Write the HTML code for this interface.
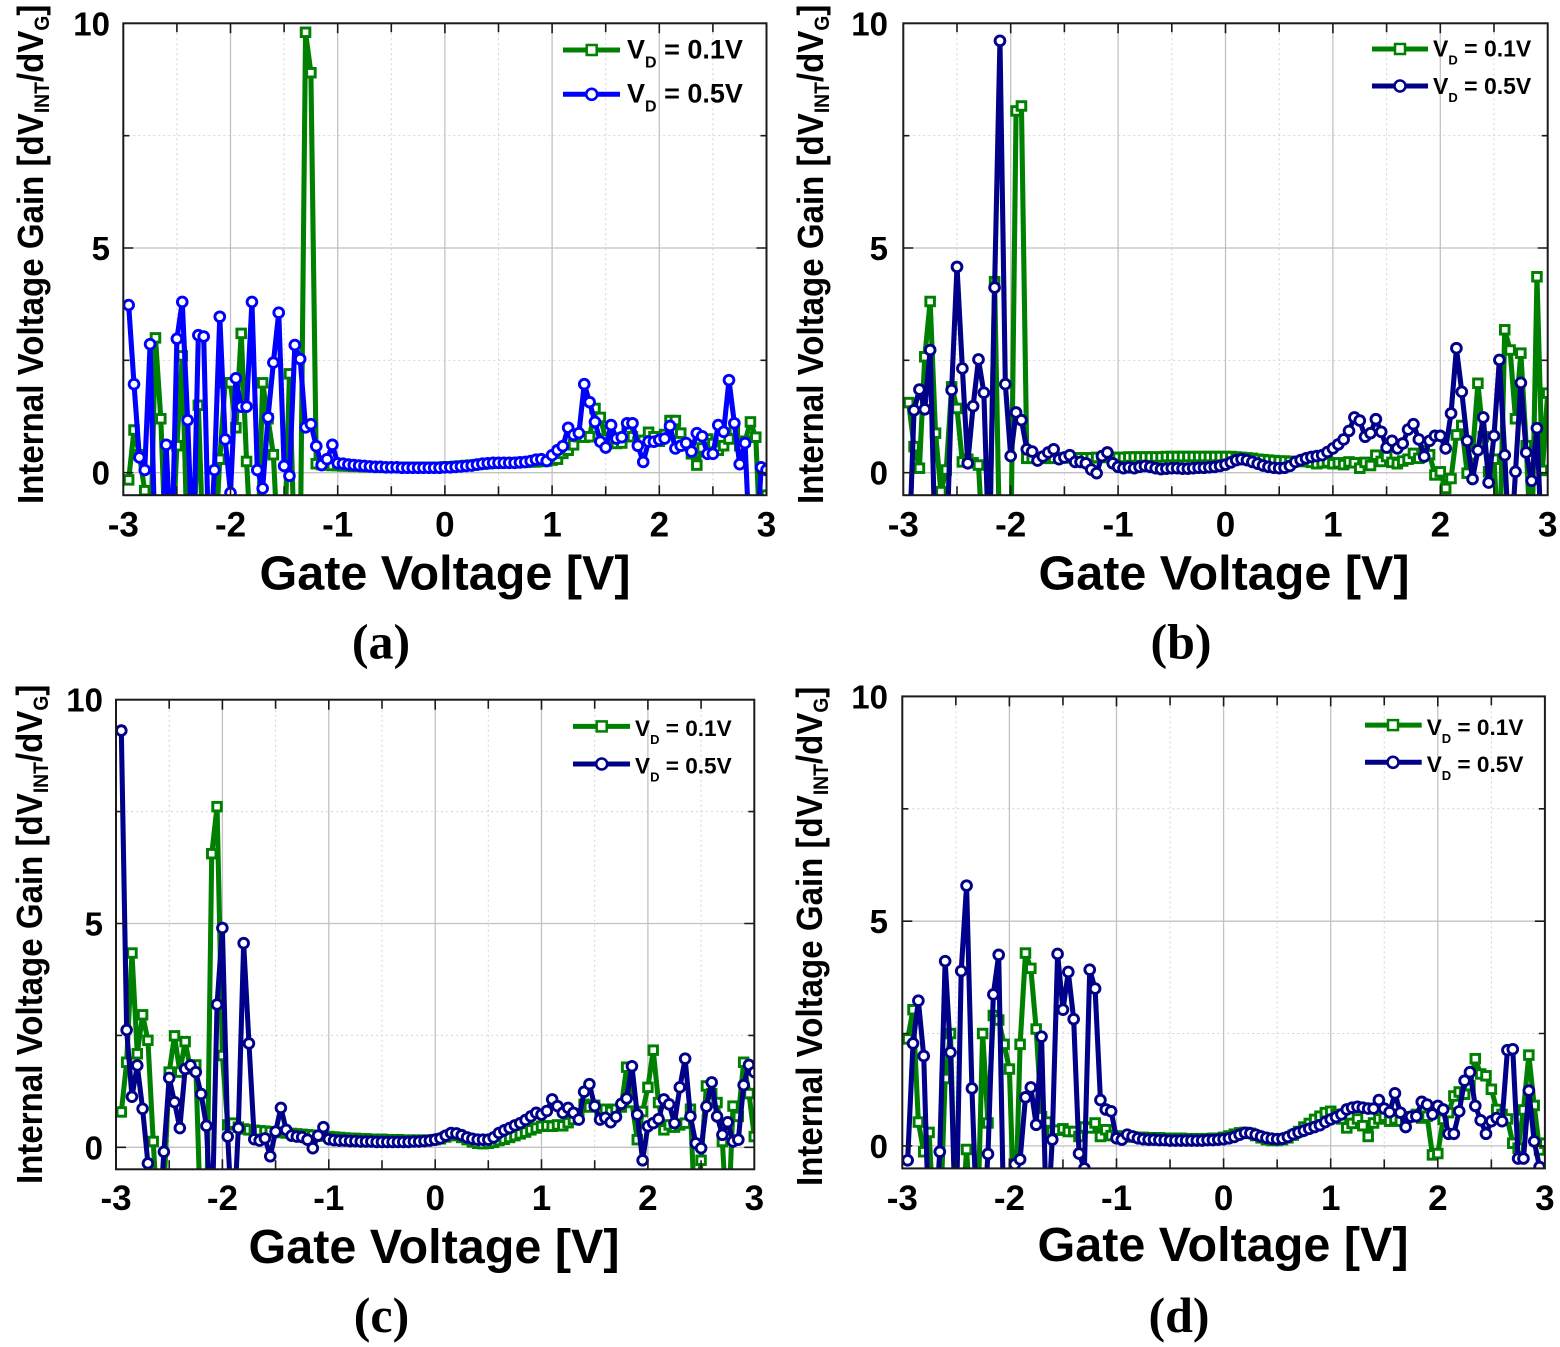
<!DOCTYPE html>
<html>
<head>
<meta charset="utf-8">
<style>
html,body{margin:0;padding:0;background:#fff;}
svg{display:block;}
text{font-family:"Liberation Sans",Arial,sans-serif;font-weight:bold;fill:#000;}
.cap{font-family:"Liberation Serif","Times New Roman",serif;font-weight:bold;}
.leg{white-space:pre;}
</style>
</head>
<body>
<svg width="1560" height="1347" viewBox="0 0 1560 1347" xmlns="http://www.w3.org/2000/svg">
<defs>
  <marker id="sqG" markerUnits="userSpaceOnUse" overflow="visible" markerWidth="1" markerHeight="1" refX="0" refY="0">
    <rect x="-1.075" y="-1.280" width="2.150" height="2.560" fill="#008000" stroke="none"/>
    <rect x="-0.523" y="-0.623" width="1.047" height="1.247" fill="#ffffff" stroke="none"/>
  </marker>
  <marker id="ciB" markerUnits="userSpaceOnUse" overflow="visible" markerWidth="1" markerHeight="1" refX="0" refY="0">
    <ellipse cx="0" cy="0" rx="1.178" ry="1.403" fill="#0000ff" stroke="none"/>
    <ellipse cx="0" cy="0" rx="0.635" ry="0.757" fill="#ffffff" stroke="none"/>
  </marker>
  <marker id="ciN" markerUnits="userSpaceOnUse" overflow="visible" markerWidth="1" markerHeight="1" refX="0" refY="0">
    <ellipse cx="0" cy="0" rx="1.178" ry="1.403" fill="#000088" stroke="none"/>
    <ellipse cx="0" cy="0" rx="0.635" ry="0.757" fill="#ffffff" stroke="none"/>
  </marker>
  <clipPath id="clipA"><rect x="123.3" y="23.3" width="643.2" height="471.9"/></clipPath>
  <clipPath id="clipB"><rect x="903.3" y="23.3" width="644.4" height="471.9"/></clipPath>
  <clipPath id="clipC"><rect x="116" y="699.7" width="638.3" height="469.6"/></clipPath>
  <clipPath id="clipD"><rect x="902.3" y="696.4" width="642.6" height="472"/></clipPath>
</defs>

<!-- ================= PANEL A ================= -->
<g>
  <path d="M176.9 23.3V495.2M284.1 23.3V495.2M391.3 23.3V495.2M498.5 23.3V495.2M605.7 23.3V495.2M712.9 23.3V495.2M123.3 135.65H766.5M123.3 360.35H766.5" stroke="#d4d4d4" stroke-width="1" stroke-dasharray="2,3" fill="none"/>
  <path d="M230.5 23.3V495.2M337.7 23.3V495.2M444.9 23.3V495.2M552.1 23.3V495.2M659.3 23.3V495.2M123.3 248H766.5M123.3 472.7H766.5" stroke="#c2c2c2" stroke-width="1.3" fill="none"/>
  <g clip-path="url(#clipA)">
    <g transform="translate(128.66,472.7) scale(5.36,-4.494)">
      <polyline fill="none" stroke="#008000" stroke-width="0.95" stroke-linejoin="round" marker-start="url(#sqG)" marker-mid="url(#sqG)" marker-end="url(#sqG)" points="0,-1.6 1,9.5 2,4 3,-4 4,-20 5,30 6,12 7,-20 8,-20 9,6 10,26 11,-20 12,-20 13,15 14,-20 15,-20 16,-20 17,3 18,20 19,20 20,10 21,31 22,2.5 23,-20 24,-20 25,20 26,12 27,4 28,-20 29,-20 30,22 31,-20 32,-20 33,98 34,89 35,2 36,1.8 37,1.7 38,1.6 39,1.6 40,1.5 41,1.5 42,1.4 43,1.4 44,1.3 45,1.3 46,1.3 47,1.2 48,1.2 49,1.2 50,1.2 51,1.2 52,1.2 53,1.2 54,1.2 55,1.2 56,1.2 57,1.2 58,1.2 59,1.3 60,1.3 61,1.4 62,1.5 63,1.6 64,1.7 65,1.8 66,1.9 67,2 68,2.1 69,2.1 70,2.2 71,2.2 72,2.2 73,2.3 74,2.3 75,2.4 76,2.4 77,2.5 78,2.6 79,2.8 80,3 81,4.3 82,5 83,6.2 84,8 85,7.9 86,8 87,14.3 88,12.3 89,7.5 90,7.8 91,6.5 92,6.6 93,9 94,8 95,6.8 96,7.2 97,9 98,8 99,7 100,8.5 101,11.6 102,11.6 103,8.8 104,6 105,4.2 106,1.7 107,5.5 108,7.5 109,6.5 110,5 111,6 112,7.5 113,9.5 114,6 115,7 116,11.3 117,7.9 118,-20 119,-5"/>
      <polyline fill="none" stroke="#0000ff" stroke-width="0.95" stroke-linejoin="round" marker-start="url(#ciB)" marker-mid="url(#ciB)" marker-end="url(#ciB)" points="0,37.3 1,19.7 2,3.4 3,0.6 4,28.6 5,-20 6,-20 7,6.2 8,-20 9,29.8 10,38 11,11.7 12,-20 13,30.6 14,30.3 15,-20 16,0.6 17,34.7 18,7.4 19,-4.5 20,21 21,14.7 22,14.7 23,38 24,0.6 25,-3.5 26,12.3 27,24.5 28,35.6 29,1.5 30,-0.7 31,28.4 32,25.3 33,10.1 34,10.8 35,5.9 36,1.7 37,3 38,6.2 39,2.1 40,2 41,1.8 42,1.7 43,1.6 44,1.5 45,1.4 46,1.3 47,1.3 48,1.2 49,1.2 50,1.2 51,1.1 52,1.1 53,1.1 54,1.1 55,1.1 56,1.1 57,1.1 58,1.1 59,1.2 60,1.2 61,1.3 62,1.4 63,1.5 64,1.6 65,1.8 66,2 67,2.1 68,2.2 69,2.2 70,2.2 71,2.2 72,2.2 73,2.3 74,2.4 75,2.6 76,2.9 77,3 78,2.6 79,3.9 80,5 81,5.9 82,10 83,8.4 84,8.8 85,19.7 86,15.7 87,11.3 88,6.9 89,5.6 90,10.6 91,7.6 92,7.9 93,11 94,11 95,6 96,2.4 97,6.9 98,6.9 99,7.3 100,7.6 101,10.4 102,5.4 103,6 104,6.6 105,4.7 106,8.8 107,8.1 108,4.2 109,4.2 110,10.6 111,9.1 112,20.6 113,11 114,1.9 115,6.6 116,-20 117,-20 118,1.2 119,0.6"/>
    </g>
  </g>
  <rect x="123.3" y="23.3" width="643.2" height="471.9" fill="none" stroke="#1a1a1a" stroke-width="2"/>
  <path d="M176.9 495.2v-9M230.5 495.2v-10M284.1 495.2v-9M337.7 495.2v-10M391.3 495.2v-9M444.9 495.2v-10M498.5 495.2v-9M552.1 495.2v-10M605.7 495.2v-9M659.3 495.2v-10M712.9 495.2v-9
           M176.9 23.3v9M230.5 23.3v10M284.1 23.3v9M337.7 23.3v10M391.3 23.3v9M444.9 23.3v10M498.5 23.3v9M552.1 23.3v10M605.7 23.3v9M659.3 23.3v10M712.9 23.3v9
           M123.3 248h10M123.3 472.7h10M123.3 135.65h6M123.3 360.35h6
           M766.5 248h-10M766.5 472.7h-10M766.5 135.65h-6M766.5 360.35h-6" stroke="#1a1a1a" stroke-width="1.6" fill="none"/>
  <g font-size="35" text-anchor="middle">
    <text x="123.3" y="536.7">-3</text><text x="230.5" y="536.7">-2</text><text x="337.7" y="536.7">-1</text><text x="444.9" y="536.7">0</text><text x="552.1" y="536.7">1</text><text x="659.3" y="536.7">2</text><text x="766.5" y="536.7">3</text>
  </g>
  <g font-size="33" text-anchor="end">
    <text x="110" y="35.3">10</text><text x="110" y="260">5</text><text x="110" y="484.7">0</text>
  </g>
  <text x="445" y="589.5" font-size="48.5" text-anchor="middle">Gate Voltage [V]</text>
  <text transform="translate(43,504) rotate(-90) scale(0.919,1)" font-size="36">Internal Voltage Gain [dV<tspan font-size="21" dy="6">INT</tspan><tspan dy="-6">/dV</tspan><tspan font-size="21" dy="6">G</tspan><tspan dy="-6">]</tspan></text>
  <text class="cap" x="381" y="658.5" font-size="50" text-anchor="middle">(a)</text>
  <line x1="563" y1="50" x2="620" y2="50" stroke="#008000" stroke-width="5"/>
  <rect x="586.7" y="45" width="10" height="10" fill="#fff" stroke="#008000" stroke-width="2.5"/>
  <text class="leg" x="627" y="58.3" font-size="27">V<tspan font-size="16" dy="9">D</tspan><tspan dy="-9"> = 0.1V</tspan></text>
  <line x1="563" y1="94.3" x2="620" y2="94.3" stroke="#0000ff" stroke-width="5"/>
  <circle cx="591.7" cy="94.3" r="5.5" fill="#fff" stroke="#0000ff" stroke-width="2.6"/>
  <text class="leg" x="627" y="102.5" font-size="27">V<tspan font-size="16" dy="9">D</tspan><tspan dy="-9"> = 0.5V</tspan></text>
</g>

<!-- ================= PANEL B ================= -->
<g>
  <path d="M957 23.3V495.2M1064.4 23.3V495.2M1171.8 23.3V495.2M1279.2 23.3V495.2M1386.6 23.3V495.2M1494 23.3V495.2M903.3 135.65H1547.7M903.3 360.35H1547.7" stroke="#d4d4d4" stroke-width="1" stroke-dasharray="2,3" fill="none"/>
  <path d="M1010.7 23.3V495.2M1118.1 23.3V495.2M1225.5 23.3V495.2M1332.9 23.3V495.2M1440.3 23.3V495.2M903.3 248H1547.7M903.3 472.7H1547.7" stroke="#c2c2c2" stroke-width="1.3" fill="none"/>
  <g clip-path="url(#clipB)">
    <g transform="translate(908.67,472.7) scale(5.37,-4.494)">
      <polyline fill="none" stroke="#008000" stroke-width="0.95" stroke-linejoin="round" marker-start="url(#sqG)" marker-mid="url(#sqG)" marker-end="url(#sqG)" points="0,15.6 1,5.8 2,1 3,25.8 4,38.1 5,8.8 6,-4.2 7,0.6 8,19.1 9,14.3 10,2.4 11,3 12,2.2 13,1.7 14,-20 15,-20 16,42.5 17,-20 18,-20 19,-20 20,80.5 21,81.6 22,3.2 23,3.2 24,3.2 25,3.2 26,3.2 27,3.2 28,3.3 29,3.3 30,3.3 31,3.3 32,3.3 33,3.3 34,3.3 35,3.4 36,3.4 37,3.4 38,3.4 39,3.4 40,3.4 41,3.5 42,3.5 43,3.5 44,3.5 45,3.5 46,3.5 47,3.5 48,3.6 49,3.6 50,3.6 51,3.6 52,3.6 53,3.6 54,3.6 55,3.6 56,3.6 57,3.6 58,3.6 59,3.6 60,3.6 61,3.5 62,3.4 63,3.3 64,3.2 65,3 66,2.9 67,2.8 68,2.7 69,2.6 70,2.6 71,2.5 72,2.5 73,2.5 74,2.5 75,2.3 76,2 77,2.2 78,2.4 79,2 80,2.2 81,1.8 82,2.4 83,2.2 84,1 85,2.3 86,1.6 87,3.9 88,2.5 89,3.6 90,2.3 91,2 92,2.6 93,3 94,4.3 95,3.2 96,5 97,4 98,-0.5 99,0.2 100,-3.5 101,-1.3 102,8.4 103,10.5 104,-0.1 105,4 106,19.9 107,8 108,0.2 109,3 110,-20 111,31.8 112,27.3 113,12 114,26.6 115,6 116,-20 117,43.6 118,0.5 119,17.7"/>
      <polyline fill="none" stroke="#000088" stroke-width="0.95" stroke-linejoin="round" marker-start="url(#ciN)" marker-mid="url(#ciN)" marker-end="url(#ciN)" points="0,-20 1,13.9 2,18.5 3,14.1 4,27.3 5,-20 6,-20 7,-20 8,18.4 9,45.8 10,23.2 11,2.1 12,14.8 13,25.2 14,17.8 15,-20 16,41.2 17,96.1 18,19.7 19,3.7 20,13.4 21,11.7 22,5.2 23,4.7 24,2.7 25,3.6 26,4.5 27,5.2 28,3 29,3.4 30,3.9 31,2.4 32,2.4 33,2.1 34,0.7 35,-0.1 36,3.7 37,4.5 38,2.1 39,1.3 40,1 41,1.2 42,1 43,1.3 44,1.5 45,1.3 46,1 47,0.8 48,0.9 49,1 50,1 51,0.9 52,0.9 53,1 54,1.1 55,1.1 56,1.2 57,1.3 58,1.5 59,1.8 60,2.3 61,2.8 62,3 63,2.8 64,2.4 65,2 66,1.6 67,1.3 68,1.1 69,1 70,1.1 71,1.5 72,2.4 73,2.8 74,3.2 75,3.5 76,3.7 77,3.9 78,4.6 79,5.4 80,6.3 81,7.4 82,9.3 83,12.3 84,11.6 85,8 86,8.8 87,11.9 88,9.1 89,5.6 90,7.1 91,5.4 92,6.5 93,9.6 94,10.8 95,7.4 96,3.6 97,7.1 98,8.2 99,8.2 100,5.4 101,13.2 102,27.7 103,18 104,7.1 105,-1.4 106,5 107,12.3 108,-2.2 109,8.2 110,25.1 111,3.9 112,-20 113,0.2 114,20 115,4.5 116,-1.8 117,9.9 118,-20 119,-20"/>
    </g>
  </g>
  <rect x="903.3" y="23.3" width="644.4" height="471.9" fill="none" stroke="#1a1a1a" stroke-width="2"/>
  <path d="M957 495.2v-9M1010.7 495.2v-10M1064.4 495.2v-9M1118.1 495.2v-10M1171.8 495.2v-9M1225.5 495.2v-10M1279.2 495.2v-9M1332.9 495.2v-10M1386.6 495.2v-9M1440.3 495.2v-10M1494 495.2v-9
           M957 23.3v9M1010.7 23.3v10M1064.4 23.3v9M1118.1 23.3v10M1171.8 23.3v9M1225.5 23.3v10M1279.2 23.3v9M1332.9 23.3v10M1386.6 23.3v9M1440.3 23.3v10M1494 23.3v9
           M903.3 248h10M903.3 472.7h10M903.3 135.65h6M903.3 360.35h6
           M1547.7 248h-10M1547.7 472.7h-10M1547.7 135.65h-6M1547.7 360.35h-6" stroke="#1a1a1a" stroke-width="1.6" fill="none"/>
  <g font-size="35" text-anchor="middle">
    <text x="903.3" y="536.7">-3</text><text x="1010.7" y="536.7">-2</text><text x="1118.1" y="536.7">-1</text><text x="1225.5" y="536.7">0</text><text x="1332.9" y="536.7">1</text><text x="1440.3" y="536.7">2</text><text x="1547.7" y="536.7">3</text>
  </g>
  <g font-size="33" text-anchor="end">
    <text x="888" y="35.3">10</text><text x="888" y="260">5</text><text x="888" y="484.7">0</text>
  </g>
  <text x="1224" y="589.5" font-size="48.5" text-anchor="middle">Gate Voltage [V]</text>
  <text transform="translate(823,504) rotate(-90) scale(0.919,1)" font-size="36">Internal Voltage Gain [dV<tspan font-size="21" dy="6">INT</tspan><tspan dy="-6">/dV</tspan><tspan font-size="21" dy="6">G</tspan><tspan dy="-6">]</tspan></text>
  <text class="cap" x="1181" y="658.5" font-size="50" text-anchor="middle">(b)</text>
  <line x1="1372" y1="49" x2="1428" y2="49" stroke="#008000" stroke-width="5"/>
  <rect x="1395" y="44" width="10" height="10" fill="#fff" stroke="#008000" stroke-width="2.5"/>
  <text class="leg" x="1433" y="56.7" font-size="23">V<tspan font-size="13" dy="8">D</tspan><tspan dy="-8"> = 0.1V</tspan></text>
  <line x1="1372" y1="86" x2="1428" y2="86" stroke="#000088" stroke-width="5"/>
  <circle cx="1400" cy="86" r="5.5" fill="#fff" stroke="#000088" stroke-width="2.6"/>
  <text class="leg" x="1433" y="94" font-size="23">V<tspan font-size="13" dy="8">D</tspan><tspan dy="-8"> = 0.5V</tspan></text>
</g>

<!-- ================= PANEL C ================= -->
<g>
  <path d="M169.2 699.7V1169.3M275.6 699.7V1169.3M382 699.7V1169.3M488.3 699.7V1169.3M594.7 699.7V1169.3M701.1 699.7V1169.3M116 811.6H754.3M116 1035.4H754.3" stroke="#d4d4d4" stroke-width="1" stroke-dasharray="2,3" fill="none"/>
  <path d="M222.4 699.7V1169.3M328.8 699.7V1169.3M435.2 699.7V1169.3M541.5 699.7V1169.3M647.9 699.7V1169.3M116 923.5H754.3M116 1147.3H754.3" stroke="#c2c2c2" stroke-width="1.3" fill="none"/>
  <g clip-path="url(#clipC)">
    <g transform="translate(121.32,1147.3) scale(5.319,-4.476)">
      <polyline fill="none" stroke="#008000" stroke-width="0.95" stroke-linejoin="round" marker-start="url(#sqG)" marker-mid="url(#sqG)" marker-end="url(#sqG)" points="0,7.9 1,19 2,43.4 3,20.9 4,29.6 5,23.9 6,1.3 7,-20 8,-10 9,16.8 10,24.9 11,16.8 12,23.6 13,17.5 14,18.4 15,-20 16,-20 17,65.6 18,76.1 19,20.5 20,5 21,5.4 22,4.5 23,4.1 24,3.9 25,3.8 26,3.7 27,3.6 28,3.5 29,3.4 30,3.3 31,3.2 32,3.1 33,3 34,2.9 35,2.8 36,2.7 37,2.6 38,2.5 39,2.4 40,2.3 41,2.2 42,2.1 43,2 44,2 45,1.9 46,1.9 47,1.8 48,1.8 49,1.8 50,1.7 51,1.7 52,1.7 53,1.6 54,1.6 55,1.6 56,1.6 57,1.6 58,1.6 59,1.7 60,1.9 61,2.3 62,2.7 63,2.6 64,2.2 65,1.7 66,1.2 67,0.9 68,0.8 69,0.9 70,1.1 71,1.5 72,1.8 73,2.2 74,2.6 75,3 76,3.4 77,3.9 78,4.3 79,4.7 80,4.8 81,4.7 82,5 83,4.8 84,5.5 85,6.2 86,7.5 87,9.6 88,9 89,9.4 90,8 91,8.5 92,8 93,8.5 94,9 95,17.9 96,10 97,1.7 98,8 99,13.4 100,21.7 101,10 102,3.9 103,5 104,4.5 105,5 106,5.4 107,8.5 108,-20 109,-2.9 110,13.7 111,12 112,10 113,1.3 114,-20 115,9.2 116,6.9 117,19 118,12 119,2.4"/>
      <polyline fill="none" stroke="#000088" stroke-width="0.95" stroke-linejoin="round" marker-start="url(#ciN)" marker-mid="url(#ciN)" marker-end="url(#ciN)" points="0,93.1 1,26.2 2,11.3 3,18.3 4,8.6 5,-3.6 6,-20 7,-20 8,-1 9,15.5 10,10.1 11,4.3 12,17.5 13,18.3 14,16.8 15,11.9 16,4.8 17,-20 18,31.9 19,49 20,2.4 21,-20 22,4.3 23,45.6 24,23.2 25,1.8 26,1.5 27,2 28,-2 29,3.5 30,8.8 31,3.9 32,2.6 33,2.4 34,2.3 35,1.7 36,-0.2 37,2.6 38,4.5 39,1.8 40,1.6 41,1.5 42,1.5 43,1.4 44,1.4 45,1.3 46,1.3 47,1.3 48,1.2 49,1.2 50,1.2 51,1.2 52,1.2 53,1.2 54,1.2 55,1.3 56,1.3 57,1.4 58,1.5 59,1.7 60,2 61,2.6 62,3.2 63,3.1 64,2.7 65,2.2 66,1.9 67,1.7 68,1.7 69,1.7 70,2.2 71,3.2 72,3.8 73,4.3 74,4.9 75,5.4 76,6.1 77,6.9 78,7.7 79,7.3 80,8.1 81,10.7 82,9.2 83,7.7 84,8.8 85,7.7 86,6.2 87,12.4 88,14.1 89,9.2 90,6.2 91,6.6 92,5.6 93,6.8 94,9.7 95,10.9 96,18.1 97,7.3 98,-2.9 99,4.7 100,5.4 101,6.3 102,10.7 103,9.6 104,5.4 105,13.4 106,19.8 107,6.9 108,0.9 109,-0.2 110,9.1 111,14.5 112,6.9 113,2.8 114,5.6 115,1.3 116,1.7 117,13.9 118,18.4 119,16.8"/>
    </g>
  </g>
  <rect x="116" y="699.7" width="638.3" height="469.6" fill="none" stroke="#1a1a1a" stroke-width="2"/>
  <path d="M169.2 1169.3v-9M222.4 1169.3v-10M275.6 1169.3v-9M328.8 1169.3v-10M382 1169.3v-9M435.2 1169.3v-10M488.3 1169.3v-9M541.5 1169.3v-10M594.7 1169.3v-9M647.9 1169.3v-10M701.1 1169.3v-9
           M169.2 699.7v9M222.4 699.7v10M275.6 699.7v9M328.8 699.7v10M382 699.7v9M435.2 699.7v10M488.3 699.7v9M541.5 699.7v10M594.7 699.7v9M647.9 699.7v10M701.1 699.7v9
           M116 923.5h10M116 1147.3h10M116 811.6h6M116 1035.4h6
           M754.3 923.5h-10M754.3 1147.3h-10M754.3 811.6h-6M754.3 1035.4h-6" stroke="#1a1a1a" stroke-width="1.6" fill="none"/>
  <g font-size="35" text-anchor="middle">
    <text x="116" y="1210">-3</text><text x="222.4" y="1210">-2</text><text x="328.8" y="1210">-1</text><text x="435.2" y="1210">0</text><text x="541.5" y="1210">1</text><text x="647.9" y="1210">2</text><text x="754.3" y="1210">3</text>
  </g>
  <g font-size="33" text-anchor="end">
    <text x="103" y="711.7">10</text><text x="103" y="935.5">5</text><text x="103" y="1159.3">0</text>
  </g>
  <text x="434" y="1263" font-size="48.5" text-anchor="middle">Gate Voltage [V]</text>
  <text transform="translate(42,1184) rotate(-90) scale(0.919,1)" font-size="36">Internal Voltage Gain [dV<tspan font-size="21" dy="6">INT</tspan><tspan dy="-6">/dV</tspan><tspan font-size="21" dy="6">G</tspan><tspan dy="-6">]</tspan></text>
  <text class="cap" x="381.5" y="1332" font-size="50" text-anchor="middle">(c)</text>
  <line x1="573" y1="726.4" x2="630" y2="726.4" stroke="#008000" stroke-width="5"/>
  <rect x="596.7" y="721.4" width="10" height="10" fill="#fff" stroke="#008000" stroke-width="2.5"/>
  <text class="leg" x="635" y="736" font-size="22.6">V<tspan font-size="13" dy="8">D</tspan><tspan dy="-8"> = 0.1V</tspan></text>
  <line x1="573" y1="764" x2="630" y2="764" stroke="#000088" stroke-width="5"/>
  <circle cx="601.7" cy="764" r="5.5" fill="#fff" stroke="#000088" stroke-width="2.6"/>
  <text class="leg" x="635" y="773.5" font-size="22.6">V<tspan font-size="13" dy="8">D</tspan><tspan dy="-8"> = 0.5V</tspan></text>
</g>

<!-- ================= PANEL D ================= -->
<g>
  <path d="M955.85 696.4V1168.4M1062.95 696.4V1168.4M1170.05 696.4V1168.4M1277.15 696.4V1168.4M1384.25 696.4V1168.4M1491.35 696.4V1168.4M902.3 808.8H1544.9M902.3 1033.5H1544.9" stroke="#d4d4d4" stroke-width="1" stroke-dasharray="2,3" fill="none"/>
  <path d="M1009.4 696.4V1168.4M1116.5 696.4V1168.4M1223.6 696.4V1168.4M1330.7 696.4V1168.4M1437.8 696.4V1168.4M902.3 921.2H1544.9M902.3 1145.9H1544.9" stroke="#c2c2c2" stroke-width="1.3" fill="none"/>
  <g clip-path="url(#clipD)">
    <g transform="translate(907.66,1145.9) scale(5.355,-4.495)">
      <polyline fill="none" stroke="#008000" stroke-width="0.95" stroke-linejoin="round" marker-start="url(#sqG)" marker-mid="url(#sqG)" marker-end="url(#sqG)" points="0,23.8 1,30.3 2,5.3 3,-1.3 4,3 5,-20 6,-20 7,15 8,25 9,-20 10,-20 11,-0.8 12,-20 13,-20 14,25 15,5.1 16,29 17,28 18,22.6 19,17.1 20,-20 21,22.6 22,42.9 23,39.5 24,26 25,6.5 26,5.3 27,3.2 28,3.5 29,3.8 30,3.2 31,3.2 32,2.1 33,4.2 34,4 35,5.1 36,2.1 37,3.6 38,2.3 39,2.2 40,2.1 41,2 42,2 43,1.9 44,1.9 45,1.8 46,1.8 47,1.8 48,1.7 49,1.7 50,1.7 51,1.7 52,1.6 53,1.6 54,1.6 55,1.6 56,1.6 57,1.7 58,1.7 59,1.9 60,2.2 61,2.6 62,2.9 63,3 64,2.8 65,2.3 66,1.8 67,1.4 68,1.2 69,1.2 70,1.4 71,1.8 72,2.4 73,3.2 74,4.2 75,5 76,5.9 77,6.6 78,7.4 79,7.7 80,7 81,6 82,4 83,5 84,6 85,4.5 86,2.1 87,5.1 88,6 89,6.6 90,5.5 91,6 92,5.5 93,5.9 94,6.5 95,7 96,6.2 97,6.6 98,-2 99,-1.7 100,5.9 101,7.4 102,11.1 103,12 104,11.5 105,13.4 106,19.4 107,16 108,15.6 109,12.6 110,8.1 111,7 112,6 113,0.6 114,-0.5 115,8 116,20.2 117,9 118,-0.9 119,0.6"/>
      <polyline fill="none" stroke="#000088" stroke-width="0.95" stroke-linejoin="round" marker-start="url(#ciN)" marker-mid="url(#ciN)" marker-end="url(#ciN)" points="0,-3.2 1,22.8 2,32.3 3,20 4,-20 5,-20 6,-1.3 7,41.1 8,20.8 9,-20 10,38.9 11,57.9 12,12.8 13,-20 14,-20 15,-1.8 16,33.7 17,42.5 18,-20 19,-20 20,-4.1 21,-3 22,10.8 23,13 24,4.7 25,24.3 26,-20 27,1.4 28,42.7 29,30.3 30,38.7 31,28.2 32,-1.7 33,-5 34,39.2 35,35 36,10.2 37,8.1 38,7.7 39,1.7 40,1.4 41,2.5 42,2.1 43,1.7 44,1.5 45,1.4 46,1.4 47,1.3 48,1.3 49,1.2 50,1.2 51,1.2 52,1.2 53,1.2 54,1.2 55,1.2 56,1.3 57,1.3 58,1.4 59,1.5 60,1.7 61,2 62,2.5 63,2.9 64,2.8 65,2.5 66,2.1 67,1.8 68,1.6 69,1.5 70,1.6 71,2 72,2.6 73,3 74,3.4 75,3.8 76,4.2 77,4.6 78,5.3 79,5.9 80,6.4 81,7 82,8.1 83,8.5 84,8.7 85,8.5 86,8.3 87,8.3 88,10.2 89,8.3 90,7.5 91,11.7 92,7.4 93,4.2 94,6.5 95,6.6 96,9.8 97,9.2 98,7 99,8.9 100,8.1 101,2.7 102,2.7 103,7.7 104,14.5 105,16.4 106,8.9 107,5.7 108,2.7 109,5.5 110,6.2 111,5.5 112,21.3 113,21.5 114,-2.8 115,-2.8 116,12.3 117,1 118,-4.7 119,-20"/>
    </g>
  </g>
  <rect x="902.3" y="696.4" width="642.6" height="472" fill="none" stroke="#1a1a1a" stroke-width="2"/>
  <path d="M955.85 1168.4v-9M1009.4 1168.4v-10M1062.95 1168.4v-9M1116.5 1168.4v-10M1170.05 1168.4v-9M1223.6 1168.4v-10M1277.15 1168.4v-9M1330.7 1168.4v-10M1384.25 1168.4v-9M1437.8 1168.4v-10M1491.35 1168.4v-9
           M955.85 696.4v9M1009.4 696.4v10M1062.95 696.4v9M1116.5 696.4v10M1170.05 696.4v9M1223.6 696.4v10M1277.15 696.4v9M1330.7 696.4v10M1384.25 696.4v9M1437.8 696.4v10M1491.35 696.4v9
           M902.3 921.2h10M902.3 1145.9h10M902.3 808.8h6M902.3 1033.5h6
           M1544.9 921.2h-10M1544.9 1145.9h-10M1544.9 808.8h-6M1544.9 1033.5h-6" stroke="#1a1a1a" stroke-width="1.6" fill="none"/>
  <g font-size="35" text-anchor="middle">
    <text x="902.3" y="1210">-3</text><text x="1009.4" y="1210">-2</text><text x="1116.5" y="1210">-1</text><text x="1223.6" y="1210">0</text><text x="1330.7" y="1210">1</text><text x="1437.8" y="1210">2</text><text x="1544.9" y="1210">3</text>
  </g>
  <g font-size="33" text-anchor="end">
    <text x="888" y="708.4">10</text><text x="888" y="933.2">5</text><text x="888" y="1157.9">0</text>
  </g>
  <text x="1223" y="1261" font-size="48.5" text-anchor="middle">Gate Voltage [V]</text>
  <text transform="translate(822,1186) rotate(-90) scale(0.919,1)" font-size="36">Internal Voltage Gain [dV<tspan font-size="21" dy="6">INT</tspan><tspan dy="-6">/dV</tspan><tspan font-size="21" dy="6">G</tspan><tspan dy="-6">]</tspan></text>
  <text class="cap" x="1179" y="1332" font-size="50" text-anchor="middle">(d)</text>
  <line x1="1365" y1="725.1" x2="1421.7" y2="725.1" stroke="#008000" stroke-width="5"/>
  <rect x="1388" y="720.1" width="10" height="10" fill="#fff" stroke="#008000" stroke-width="2.5"/>
  <text class="leg" x="1426.7" y="735" font-size="22.6">V<tspan font-size="13" dy="8">D</tspan><tspan dy="-8"> = 0.1V</tspan></text>
  <line x1="1365" y1="762.3" x2="1421.7" y2="762.3" stroke="#000088" stroke-width="5"/>
  <circle cx="1393" cy="762.3" r="5.5" fill="#fff" stroke="#000088" stroke-width="2.6"/>
  <text class="leg" x="1426.7" y="772" font-size="22.6">V<tspan font-size="13" dy="8">D</tspan><tspan dy="-8"> = 0.5V</tspan></text>
</g>
</svg>
</body>
</html>
